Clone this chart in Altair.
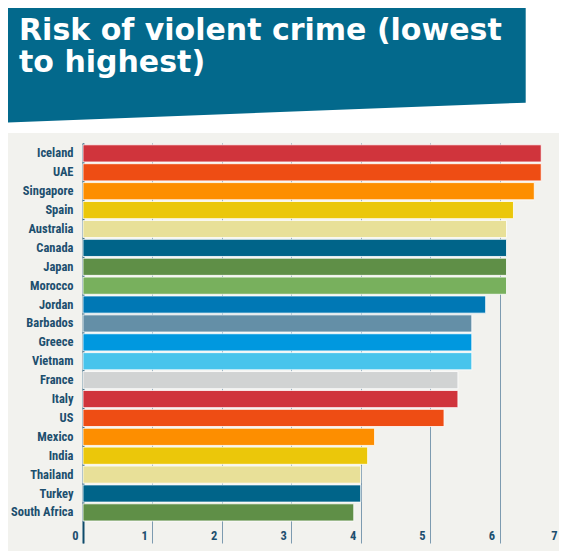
import altair as alt
import pandas as pd

# ---- data ----
countries = ["Iceland", "UAE", "Singapore", "Spain", "Australia", "Canada", "Japan",
             "Morocco", "Jordan", "Barbados", "Greece", "Vietnam", "France", "Italy",
             "US", "Mexico", "India", "Thailand", "Turkey", "South Africa"]
scores = [6.6, 6.6, 6.5, 6.2, 6.1, 6.1, 6.1, 6.1, 5.8, 5.6, 5.6, 5.6, 5.4, 5.4,
          5.2, 4.2, 4.1, 4.0, 4.0, 3.9]
bar_colors = ["#d0343c", "#ee4d14", "#fd8e00", "#ebc70a", "#e8e098", "#006489",
              "#5f8f47", "#78b05d", "#0078b5", "#648fa7", "#0098df", "#48c4ec",
              "#d1d3d3", "#d0343c", "#ee4d14", "#fd8e00", "#ebc70a", "#e8e098",
              "#006489", "#5f8f47"]
title_lines = ["Risk of violent crime (lowest", "to highest)"]
x_ticks = [0, 1, 2, 3, 4, 5, 6, 7]

df = pd.DataFrame({"country": countries, "score": scores})
one = pd.DataFrame({"k": [0]})

# ---- layout ----
W, H = 486, 400
LEFT, TOP, BOTTOM = 75, 135, 8
RIGHT = 551 - LEFT - W          # keep the page from overflowing the window
TEXT = "#1d4f6e"
LABEL_FONT = "Liberation Sans Narrow, Roboto Condensed, Arial Narrow, sans-serif"
S = 525.7  # banner width

white_top = alt.Chart(one).mark_rect(color="white").encode(
    x=alt.value(-LEFT - 10), x2=alt.value(W + 10), y=alt.value(-TOP - 20), y2=alt.value(-10)
)

banner = alt.Chart(one).mark_point(
    shape="M-1,-1L1,-1L1,-0.6093L-1,-0.5332Z",
    filled=True, size=S * S, opacity=1, color="#03698c", strokeWidth=0
).encode(x=alt.value(-83 + S / 2), y=alt.value(-143 + S / 2))

title = alt.Chart(one).mark_text(
    text=title_lines, align="left", baseline="alphabetic",
    font="DejaVu Sans, sans-serif", fontSize=30, fontWeight="bold",
    color="white", lineHeight=32
).encode(x=alt.value(11 - LEFT), y=alt.value(31.5 - TOP))

bars = alt.Chart(df).mark_bar(stroke="white", strokeWidth=1, strokeOpacity=0.8).encode(
    y=alt.Y("country:N", sort=countries,
            scale=alt.Scale(paddingInner=0.09, paddingOuter=0.63, align=0.076),
            axis=alt.Axis(title=None, domain=True, domainColor="#0e4b6b", domainWidth=2,
                          ticks=False, grid=False, labelPadding=10,
                          labelFont=LABEL_FONT, labelFontSize=12.5, labelFontWeight="bold",
                          labelColor=TEXT)),
    x=alt.X("score:Q", scale=alt.Scale(domain=[0, 7], nice=False, zero=True),
            axis=alt.Axis(title=None, domain=False, ticks=False, grid=True,
                          gridColor="#7d9bb0", gridWidth=1, values=x_ticks,
                          labelAlign="right", labelBaseline="alphabetic",
                          labelOffset={"condition": {"test": "datum.value == 7", "value": -12},
                                       "value": -5},
                          labelPadding=-4, labelOverlap=False, labelFlush=False,
                          labelBound=False,
                          labelFont=LABEL_FONT, labelFontSize=12.5, labelFontWeight="bold",
                          labelColor=TEXT)),
    color=alt.Color("country:N", scale=alt.Scale(domain=countries, range=bar_colors),
                    legend=None),
)

chart = alt.layer(white_top, banner, title, bars).properties(
    width=W, height=H,
    autosize=alt.AutoSizeParams(type="none"),
    padding={"left": LEFT, "top": TOP, "right": RIGHT, "bottom": BOTTOM},
    background="#f2f2ee",
).configure_view(strokeWidth=0)

chart.save("out.html", embed_options={"renderer": "svg", "actions": False})
